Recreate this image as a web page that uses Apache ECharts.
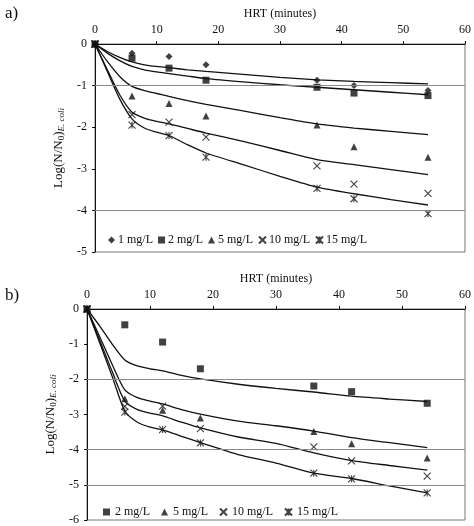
<!DOCTYPE html>
<html><head><meta charset="utf-8">
<script src="https://cdn.jsdelivr.net/npm/echarts@6/dist/echarts.min.js"></script>
<style>html,body{margin:0;padding:0;background:#fff}#c{width:474px;height:526px}</style>
</head><body><div id="c"></div>
<script>
// ---- data ----
const xTicks = [0, 10, 20, 30, 40, 50, 60];
const yTicksA = [0, -1, -2, -3, -4, -5];
const yTicksB = [0, -1, -2, -3, -4, -5, -6];
const gridLinesA = [-1, -4];
const gridLinesB = [-2, -4, -5];

const times = [0, 6, 12, 18, 36, 42, 54];
const namesA = ['1 mg/L', '2 mg/L', '5 mg/L', '10 mg/L', '15 mg/L'];
const a_1mg  = [0, -0.22, -0.30, -0.50, -0.87, -1.00, -1.12];
const a_2mg  = [0, -0.34, -0.58, -0.87, -1.04, -1.18, -1.24];
const a_5mg  = [0, -1.25, -1.43, -1.73, -1.95, -2.47, -2.72];
const a_10mg = [0, -1.70, -1.88, -2.24, -2.93, -3.37, -3.59];
const a_15mg = [0, -1.95, -2.20, -2.72, -3.47, -3.72, -4.08];

const namesB = ['2 mg/L', '5 mg/L', '10 mg/L', '15 mg/L'];
const b_2mg  = [0, -0.45, -0.94, -1.70, -2.19, -2.35, -2.68];
const b_5mg  = [0, -2.55, -2.88, -3.10, -3.48, -3.83, -4.24];
const b_10mg = [0, -2.77, -2.76, -3.40, -3.92, -4.32, -4.75];
const b_15mg = [0, -2.93, -3.43, -3.81, -4.67, -4.83, -5.23];

// fitted model curves
const fitT = [0, 2, 4, 6, 8, 10, 12, 15, 18, 24, 30, 36, 42, 48, 54];
const fa_1mg  = [0, -0.18, -0.32, -0.43, -0.50, -0.54, -0.57, -0.62, -0.66, -0.73, -0.80, -0.86, -0.90, -0.93, -0.96];
const fa_2mg  = [0, -0.22, -0.40, -0.54, -0.62, -0.67, -0.71, -0.77, -0.83, -0.91, -0.98, -1.04, -1.10, -1.16, -1.22];
const fa_5mg  = [0, -0.42, -0.78, -1.02, -1.12, -1.19, -1.26, -1.36, -1.45, -1.61, -1.77, -1.92, -2.02, -2.10, -2.18];
const fa_10mg = [0, -0.62, -1.22, -1.64, -1.78, -1.86, -1.92, -2.03, -2.14, -2.34, -2.56, -2.78, -2.90, -3.02, -3.14];
const fa_15mg = [0, -0.66, -1.32, -1.80, -2.02, -2.12, -2.20, -2.42, -2.62, -2.90, -3.18, -3.44, -3.60, -3.74, -3.87];

const fb_2mg  = [0, -0.48, -1.00, -1.45, -1.62, -1.70, -1.76, -1.89, -1.99, -2.14, -2.26, -2.36, -2.48, -2.56, -2.63];
const fb_5mg  = [0, -0.78, -1.58, -2.30, -2.52, -2.62, -2.70, -2.86, -2.99, -3.19, -3.32, -3.47, -3.66, -3.80, -3.94];
const fb_10mg = [0, -0.88, -1.78, -2.62, -2.86, -2.96, -3.04, -3.22, -3.38, -3.64, -3.82, -4.09, -4.31, -4.45, -4.58];
const fb_15mg = [0, -0.95, -1.92, -2.90, -3.22, -3.36, -3.44, -3.62, -3.80, -4.14, -4.38, -4.67, -4.82, -5.03, -5.23];

// ---- styles ----
const FONT = 'Liberation Serif';
const SYM = {
  '1 mg/L': 'diamond',
  '2 mg/L': 'rect',
  '5 mg/L': 'triangle',
  '10 mg/L': 'path://M0,0L10,10M10,0L0,10',
  '15 mg/L': 'path://M0,0L10,10M10,0L0,10M5,0L5,10'
};
const SIZE = {'1 mg/L': 7, '2 mg/L': 7, '5 mg/L': 7, '10 mg/L': 7, '15 mg/L': 7};
function pairs(xs, ys) { return xs.map((x, i) => [x, ys[i]]); }
function scatter(name, ys, idx) {
  const stroke = name === '10 mg/L' || name === '15 mg/L';
  return {
    type: 'scatter', name, xAxisIndex: idx, yAxisIndex: idx,
    data: pairs(times, ys), symbol: SYM[name], symbolSize: SIZE[name],
    itemStyle: stroke ? {color: 'rgba(0,0,0,0)', borderColor: '#111', borderWidth: 1.1} : {color: '#111'},
    z: 3
  };
}
function fit(ys, idx) {
  return {
    type: 'line', name: 'fit', xAxisIndex: idx, yAxisIndex: idx,
    data: pairs(fitT, ys), showSymbol: false, smooth: 0.25,
    lineStyle: {color: '#111', width: 1.3}, z: 2, silent: true
  };
}
function gridLines(vals, idx) {
  return {
    type: 'line', name: 'grid', xAxisIndex: idx, yAxisIndex: idx, data: [], silent: true,
    markLine: {silent: true, symbol: 'none', label: {show: false},
      lineStyle: {color: '#8a8a8a', type: 'solid', width: 1},
      data: vals.map(v => ({yAxis: v}))}
  };
}
function xAx(idx, gap) {
  return {
    type: 'value', gridIndex: idx, position: 'top', min: xTicks[0], max: xTicks[xTicks.length - 1],
    interval: xTicks[1] - xTicks[0],
    name: 'HRT (minutes)', nameLocation: 'middle', nameGap: gap,
    nameTextStyle: {fontFamily: FONT, fontSize: 12, color: '#111'},
    axisLine: {onZero: false, lineStyle: {color: '#111', width: 1}},
    axisTick: {show: true, inside: false, length: 3, lineStyle: {color: '#111'}},
    axisLabel: {fontFamily: FONT, fontSize: 12, color: '#111', margin: 8},
    splitLine: {show: false}
  };
}
function yAx(idx, ticks, gap) {
  return {
    type: 'value', gridIndex: idx, min: ticks[ticks.length - 1], max: ticks[0], interval: 1,
    name: '{n|Log(N/N}{s|0}{n|)}{i|E. coli}', nameLocation: 'middle', nameGap: gap, nameRotate: 90,
    nameTextStyle: {rich: {
      n: {fontFamily: FONT, fontSize: 13, color: '#111'},
      s: {fontFamily: FONT, fontSize: 9, color: '#111', verticalAlign: 'bottom', padding: [6, 0, 0, 0]},
      i: {fontFamily: FONT, fontSize: 9, fontStyle: 'italic', color: '#111', verticalAlign: 'bottom', padding: [6, 0, 0, 0]}
    }},
    axisLine: {onZero: false, lineStyle: {color: '#111', width: 1}},
    axisTick: {show: true, inside: false, length: 3, lineStyle: {color: '#111'}},
    axisLabel: {fontFamily: FONT, fontSize: 12, color: '#111', margin: 8},
    splitLine: {show: false}
  };
}

const chart = echarts.init(document.getElementById('c'), null, {renderer: 'canvas'});
chart.setOption({
  animation: false,
  backgroundColor: '#fff',
  title: [
    {text: 'a)', left: 0, top: 0, textStyle: {fontFamily: FONT, fontSize: 17, fontWeight: 'normal', color: '#111'}},
    {text: 'b)', left: 0, top: 282, textStyle: {fontFamily: FONT, fontSize: 17, fontWeight: 'normal', color: '#111'}}
  ],
  grid: [
    {left: 95, right: 7, top: 44, height: 208, show: true, borderColor: '#777', borderWidth: 1},
    {left: 87, right: 6, top: 309, height: 212, show: true, borderColor: '#777', borderWidth: 1}
  ],
  xAxis: [xAx(0, 24), xAx(1, 24)],
  yAxis: [yAx(0, yTicksA, 28), yAx(1, yTicksB, 26)],
  legend: [
    {data: namesA.map(n => ({name: n, icon: SYM[n]})), left: 103, top: 229, itemWidth: 7, itemHeight: 7, itemGap: 5,
     textStyle: {fontFamily: FONT, fontSize: 12, color: '#111', padding: [0, 0, 0, -2]}, selectedMode: false},
    {data: namesB.map(n => ({name: n, icon: SYM[n]})), left: 98, top: 501, itemWidth: 7, itemHeight: 7, itemGap: 11,
     textStyle: {fontFamily: FONT, fontSize: 12, color: '#111'}, selectedMode: false}
  ],
  series: [
    gridLines(gridLinesA, 0),
    gridLines(gridLinesB, 1),
    fit(fa_1mg, 0), fit(fa_2mg, 0), fit(fa_5mg, 0), fit(fa_10mg, 0), fit(fa_15mg, 0),
    fit(fb_2mg, 1), fit(fb_5mg, 1), fit(fb_10mg, 1), fit(fb_15mg, 1),
    scatter('1 mg/L', a_1mg, 0), scatter('2 mg/L', a_2mg, 0), scatter('5 mg/L', a_5mg, 0),
    scatter('10 mg/L', a_10mg, 0), scatter('15 mg/L', a_15mg, 0),
    scatter('2 mg/L', b_2mg, 1), scatter('5 mg/L', b_5mg, 1),
    scatter('10 mg/L', b_10mg, 1), scatter('15 mg/L', b_15mg, 1)
  ]
});
</script></body></html>
